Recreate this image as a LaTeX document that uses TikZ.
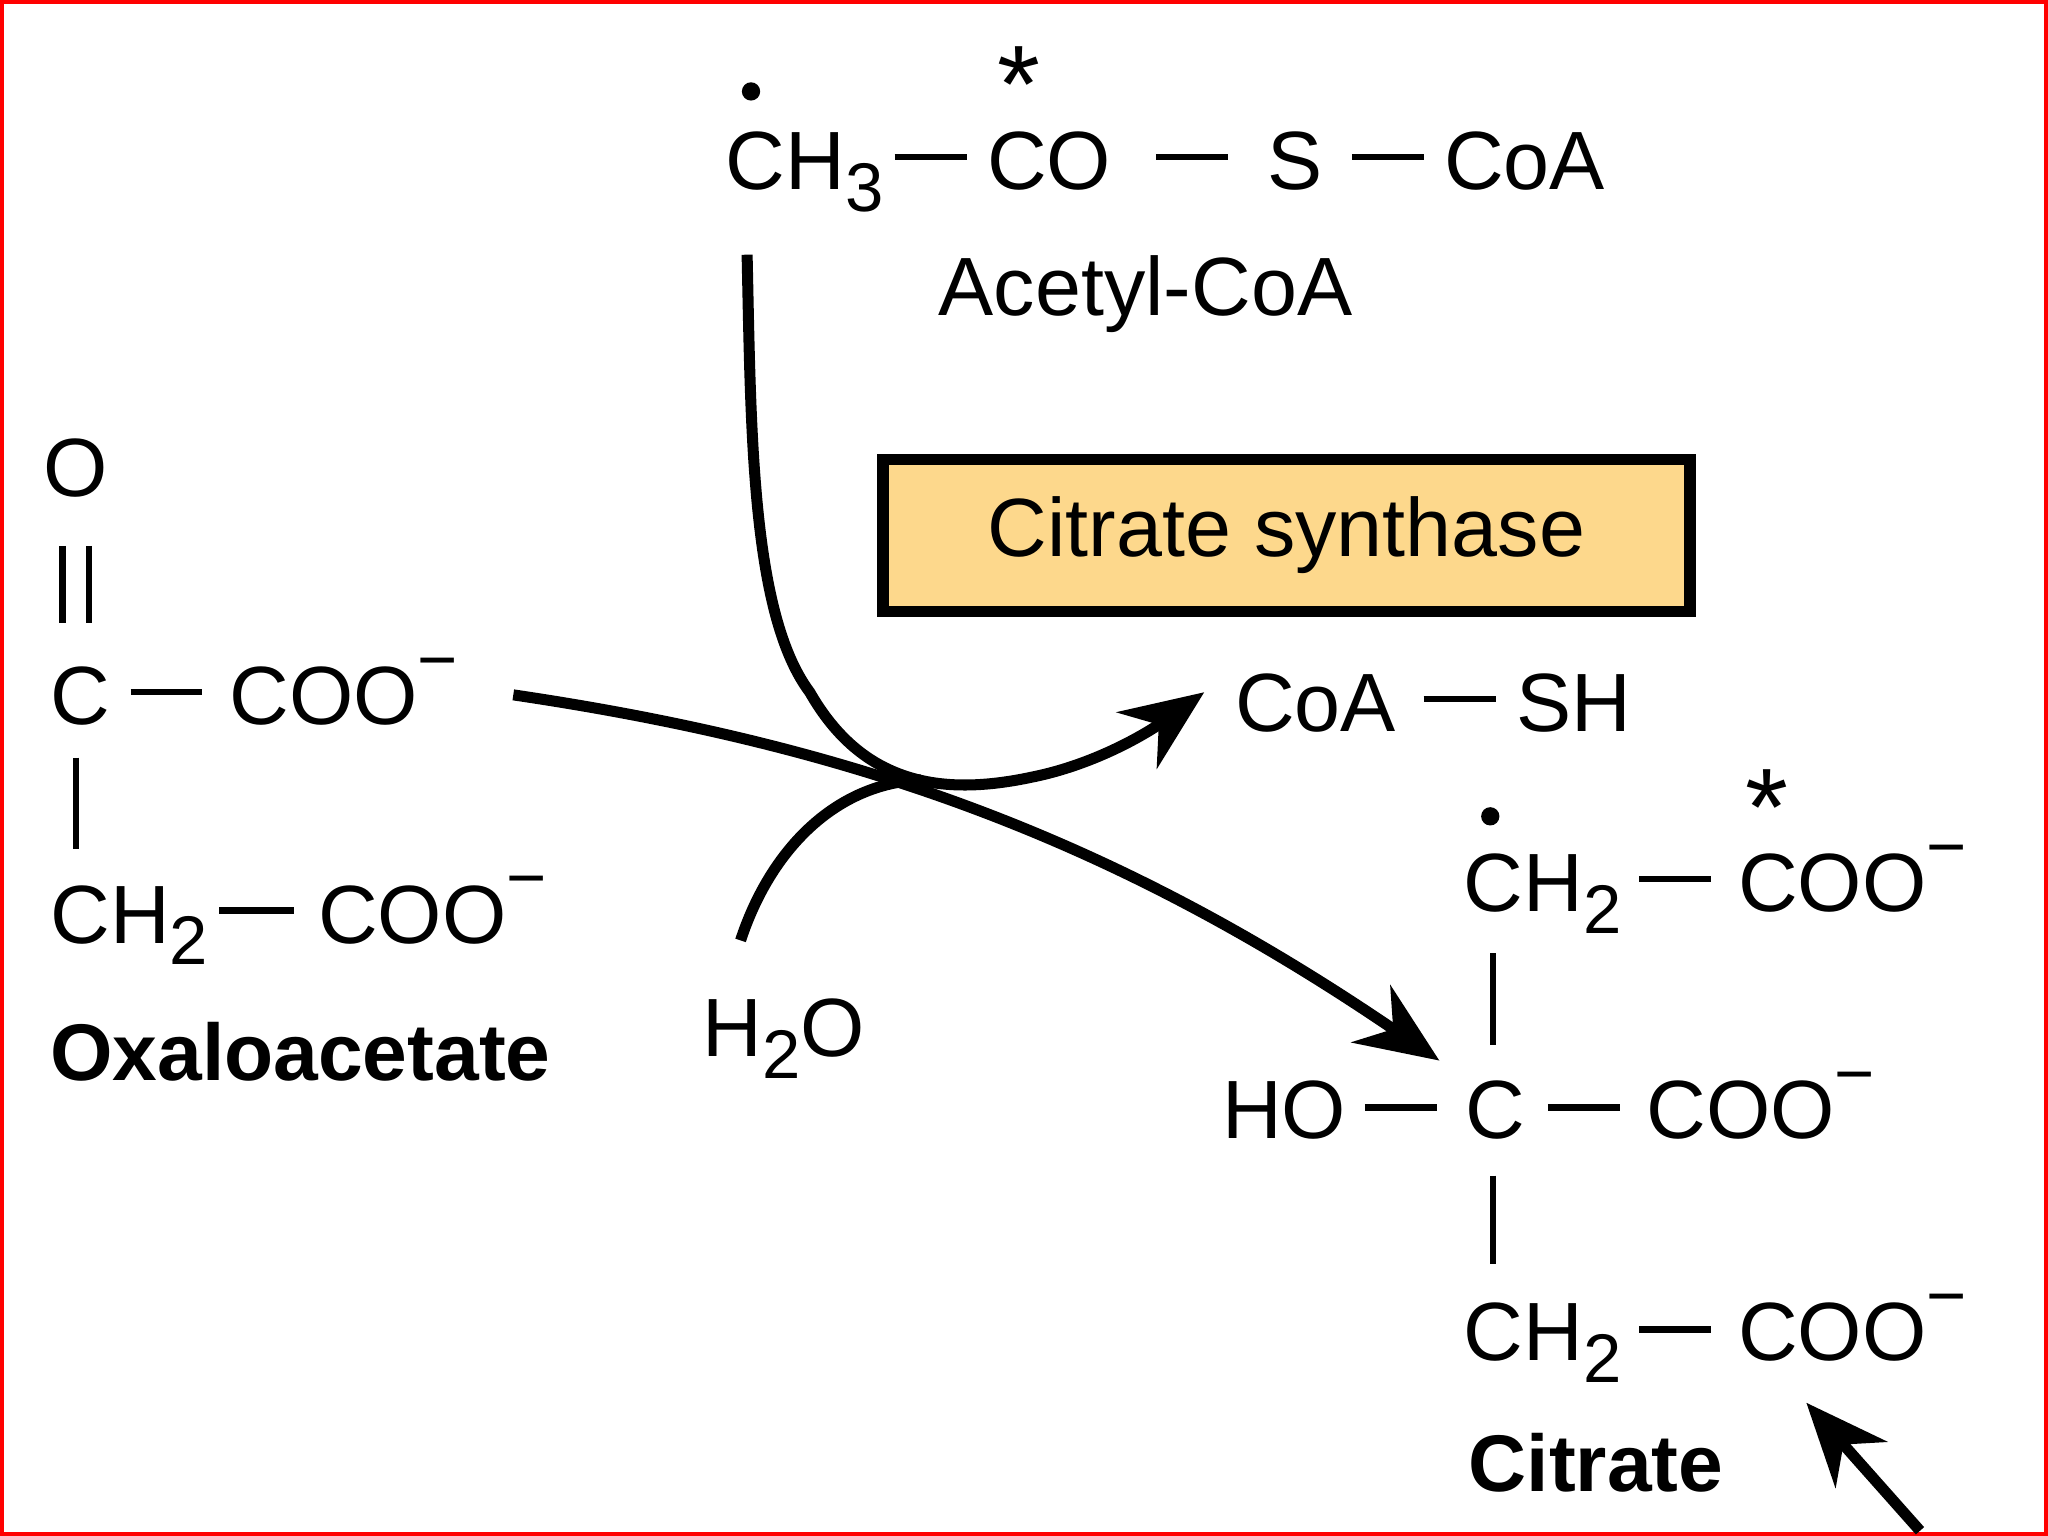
\documentclass[tikz,border=0pt]{standalone}
\usepackage{fontspec}
\setmainfont{Liberation Sans}
\usetikzlibrary{arrows.meta}
\newcommand{\sbs}[1]{\raisebox{-0.5ex}{\fontsize{15}{15}\selectfont #1}}
\newcommand{\mneg}{\raisebox{0.95ex}{\fontsize{15}{15}\selectfont −}}
\begin{document}
\begin{tikzpicture}[x=0.01cm,y=-0.01cm,
  t/.style={inner sep=0pt,anchor=base west,font=\fontsize{18}{20}\selectfont},
  tb/.style={t,font=\fontsize{17.5}{20}\selectfont\bfseries},
  bond/.style={line width=1.4pt},
  arr/.style={line width=2.4pt,-{Stealth[length=18pt,width=15pt]}},
  crv/.style={line width=2.4pt},
  star/.style={inner sep=0pt,font=\fontsize{24}{24}\selectfont}]
\useasboundingbox (0,0) rectangle (1568,1176);
\draw[red,line width=1pt] (1,1) rectangle (1567,1175);
% Acetyl-CoA
\node[t] (ch3) at (555,145) {CH\sbs{3}};
\node[t] (co) at (755,145) {CO};
\node[t] (s) at (970,145) {S};
\node[t] (coa) at (1105,145) {CoA};
\fill (575,70) circle [radius=0.07cm];
\node[star] (st1) at (780,65) {*};
\draw[bond] (685,120) -- (740,120) (885,120) -- (940,120) (1035,120) -- (1090,120);
\node[t,anchor=center] (acoa) at (877,225) {Acetyl-CoA};
% enzyme
\draw[line width=2.5pt,fill={rgb,255:red,253;green,216;blue,140}] (676,352) rectangle (1294,468);
\node[t,anchor=center] (cs) at (985,410) {Citrate synthase};
% Oxaloacetate
\node[t,anchor=center] (o) at (58,358) {O};
\draw[bond] (48,418) -- (48,477) (68,418) -- (68,477);
\node[t] (c1) at (38,555) {C};
\draw[bond] (100,530) -- (155,530);
\node[t] (coo1) at (175,555) {COO\mneg};
\draw[bond] (58,580) -- (58,650);
\node[t] (ch2a) at (38,722) {CH\sbs{2}};
\draw[bond] (168,697) -- (225,697);
\node[t] (coo2) at (243,722) {COO\mneg};
\node[tb,anchor=center] (oxa) at (230,805) {Oxaloacetate};
% H2O
\node[t,anchor=center] (h2o) at (600,795) {H\sbs{2}O};
% CoA-SH
\node[t] (coa2) at (945,560) {CoA};
\draw[bond] (1090,535) -- (1145,535);
\node[t] (sh) at (1160,560) {SH};
% Citrate
\node[t] (ch2b) at (1120,698) {CH\sbs{2}};
\fill (1141,625) circle [radius=0.07cm];
\node[star] (st2) at (1353,618) {*};
\draw[bond] (1255,673) -- (1310,673);
\node[t] (coo3) at (1330,698) {COO\mneg};
\draw[bond] (1143,730) -- (1143,800);
\node[t] (ho) at (935,872) {HO};
\draw[bond] (1045,848) -- (1100,848);
\node[t] (cc) at (1121,872) {C};
\draw[bond] (1185,848) -- (1240,848);
\node[t] (coo4) at (1260,872) {COO\mneg};
\draw[bond] (1143,900) -- (1143,968);
\node[t] (ch2c) at (1120,1042) {CH\sbs{2}};
\draw[bond] (1255,1018) -- (1310,1018);
\node[t] (coo5) at (1330,1042) {COO\mneg};
\node[tb,anchor=center] (cit) at (1222,1120) {Citrate};
% arrows
\coordinate (a1) at (572,195);
\coordinate (a2) at (922,530);
\draw[arr] (a1) .. controls (575,330) and (575,470) .. (620,530)
  .. controls (660,600) and (720,610) .. (790,595) .. controls (840,585) and (880,560) .. (a2);
\coordinate (b1) at (393,532);
\coordinate (b2) at (1102,812);
\draw[arr] (b1) .. controls (650,570) and (850,640) .. (b2);
\coordinate (h1) at (567,720);
\draw[crv] (h1) .. controls (590,650) and (640,600) .. (705,597);
\coordinate (c1s) at (1470,1172);
\coordinate (c1e) at (1383,1074);
\draw[arr] (c1s) -- (c1e);
\end{tikzpicture}
\end{document}
